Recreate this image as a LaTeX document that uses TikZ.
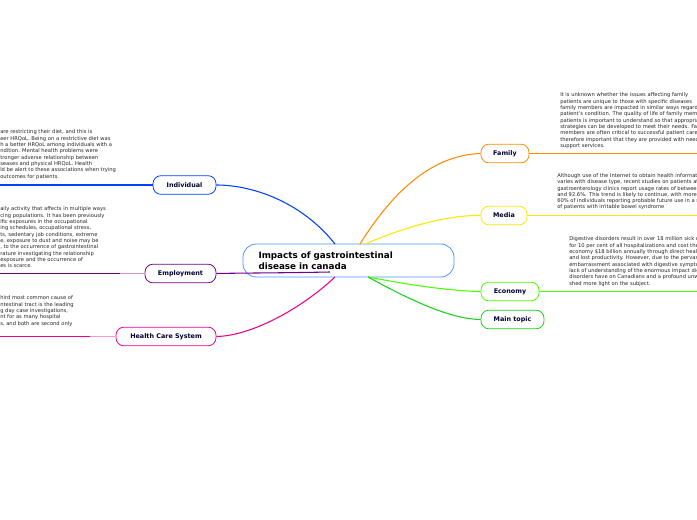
\documentclass[tikz,border=0pt]{standalone}
\usepackage{fontspec}
\setmainfont{DejaVu Sans}
\begin{document}
\begin{tikzpicture}[x=0.75pt,y=-0.75pt,
  topic/.style={draw=#1,rounded corners=6pt,minimum height=14pt,inner xsep=7pt,font=\fontsize{4.8}{5.5}\selectfont\bfseries,text=black!80!blue,fill=white,line width=0.6pt},
  para/.style={anchor=base west,inner sep=0pt,font=\fontsize{3.9}{4.7}\selectfont,text=black!85},
  conn/.style={line width=0.8pt}]
\useasboundingbox (0,0) rectangle (697,520);
\clip (0,0) rectangle (697,520);
\fill[white] (0,0) rectangle (697,520);
% center
\node[draw=blue!60!cyan!70,rounded corners=10pt,minimum width=211*0.75pt,minimum height=33*0.75pt,line width=0.6pt,fill=white,align=left,text width=180*0.75pt,font=\fontsize{6.6}{8}\selectfont\bfseries] (c) at (348.5,260.5) {Impacts of gastrointestinal\\disease in canada};
% topics
\node[topic=orange!90!yellow,minimum width=48*0.75pt] (fam) at (505,153.5) {Family};
\node[topic=yellow!90!orange,minimum width=46*0.75pt] (med) at (504,215.5) {Media};
\node[topic=green!70!yellow,minimum width=58*0.75pt] (eco) at (510,291.5) {Economy};
\node[topic=green!80!black!90,minimum width=63*0.75pt] (main) at (512.5,319.5) {Main topic};
\node[topic=blue!75!cyan,minimum width=63*0.75pt] (ind) at (184.5,185) {Individual};
\node[topic=violet!90!blue,minimum width=71*0.75pt] (emp) at (180.5,273.5) {Employment};
\node[topic=magenta,minimum width=100*0.75pt] (hcs) at (166,336.5) {Health Care System};
% connectors
\draw[conn,orange!90!yellow] (360,244) .. controls (400,180) and (440,155) .. (fam.west);
\draw[conn,yellow!90!orange] (365,244) .. controls (410,225) and (450,215) .. (med.west);
\draw[conn,green!70!yellow] (368,277) .. controls (410,285) and (450,291) .. (eco.west);
\draw[conn,green!80!black!90] (368,277) .. controls (410,300) and (450,319) .. (main.west);
\draw[conn,blue!75!cyan] (335,244) .. controls (300,200) and (250,185) .. (ind.east);
\draw[conn,violet!90!blue] (330,272) .. controls (280,273) and (240,273) .. (emp.east);
\draw[conn,magenta] (335,277) .. controls (300,310) and (250,336) .. (hcs.east);
% underlines
\coordinate (fr) at (697,153.5); \draw[conn,orange!90!yellow] (fam.east) -- (fr);
\coordinate (mr) at (697,215.5); \draw[conn,yellow!90!orange] (med.east) -- (mr);
\coordinate (er) at (697,291.5); \draw[conn,green!70!yellow] (eco.east) -- (er);
\coordinate (il) at (0,185); \coordinate (ir) at (128,185); \draw[conn,blue!75!cyan] (il) -- (ir) -- (ind.west);
\coordinate (el) at (0,273.5); \coordinate (er2) at (120,273.5); \draw[conn,violet!90!blue] (el) -- (er2); \draw[conn,violet!40] (er2) -- (emp.west);
\coordinate (hl) at (0,336.5); \coordinate (hr) at (90,336.5); \draw[conn,magenta] (hl) -- (hr); \draw[conn,magenta!40] (hr) -- (hcs.west);
% paragraphs right
\node[para] (f1) at (560,97) {It is unknown whether the issues affecting family};
\node[para] (f2) at (560,103.3) {patients are unique to those with specific diseases};
\node[para] (f3) at (560,109.6) {family members are impacted in similar ways regardless of the};
\node[para] (f4) at (560,115.9) {patient's condition. The quality of life of family members of};
\node[para] (f5) at (560,122.2) {patients is important to understand so that appropriate};
\node[para] (f6) at (560,128.5) {strategies can be developed to meet their needs. Family};
\node[para] (f7) at (560,134.8) {members are often critical to successful patient care, it is};
\node[para] (f8) at (560,141.1) {therefore important that they are provided with needed};
\node[para] (f9) at (560,147.4) {support services.};
\node[para] (m1) at (557,177.5) {Although use of the Internet to obtain health information};
\node[para] (m2) at (557,183.8) {varies with disease type, recent studies on patients attending};
\node[para] (m3) at (557,190.1) {gastroenterology clinics report usage rates of between};
\node[para] (m4) at (557,196.4) {and 92.6\%. This trend is likely to continue, with more than};
\node[para] (m5) at (557,202.7) {60\% of individuals reporting probable future use in a study};
\node[para] (m6) at (557,209) {of patients with irritable bowel syndrome};
\node[para] (e1) at (569,241) {Digestive disorders result in over 18 million sick days and account};
\node[para] (e2) at (569,247.3) {for 10 per cent of all hospitalizations and cost the Canadian};
\node[para] (e3) at (569,253.6) {economy \$18 billion annually through direct health care costs};
\node[para] (e4) at (569,259.9) {and lost productivity. However, due to the pervasive};
\node[para] (e5) at (569,266.2) {embarrassment associated with digestive symptoms, there is a};
\node[para] (e6) at (569,272.5) {lack of understanding of the enormous impact digestive};
\node[para] (e7) at (569,278.8) {disorders have on Canadians and a profound unwillingness to};
\node[para] (e8) at (569,285.1) {shed more light on the subject.};
% paragraphs left (cut)
\node[para] (i1) at (0,134) {are restricting their diet, and this is};
\node[para] (i2) at (0,140.3) {eer HRQoL. Being on a restrictive diet was};
\node[para] (i3) at (0,146.6) {h a better HRQoL among individuals with a};
\node[para] (i4) at (0,152.9) {ndition. Mental health problems were};
\node[para] (i5) at (0,159.2) {tronger adverse relationship between};
\node[para] (i6) at (0,165.5) {seases and physical HRQoL. Health};
\node[para] (i7) at (0,171.8) {ld be alert to these associations when trying};
\node[para] (i8) at (0,178.1) {outcomes for patients.};
\node[para] (p1) at (0,211) {aily activity that affects in multiple ways};
\node[para] (p2) at (0,217.3) {cing populations. It has been previously};
\node[para] (p3) at (0,223.6) {ific exposures  in the occupational};
\node[para] (p4) at (0,229.9) {ing schedules, occupational stress,};
\node[para] (p5) at (0,236.2) {ts, sedentary job conditions, extreme};
\node[para] (p6) at (0,242.5) {e, exposure to dust and noise may be};
\node[para] (p7) at (0,248.8) {, to the occurrence of gastrointestinal};
\node[para] (p8) at (0,255.1) {rature investigating the relationship};
\node[para] (p9) at (0,261.4) { exposure and the occurrence of};
\node[para] (p10) at (0,267.7) {es is scarce.};
\node[para] (h1) at (0,300) {hird most common cause of};
\node[para] (h2) at (0,306.3) {ntestinal tract is the leading};
\node[para] (h3) at (0,312.6) {g day case investigations,};
\node[para] (h4) at (0,318.9) {nt for as many hospital};
\node[para] (h5) at (0,325.2) {s, and both are second only};
\end{tikzpicture}
\end{document}
